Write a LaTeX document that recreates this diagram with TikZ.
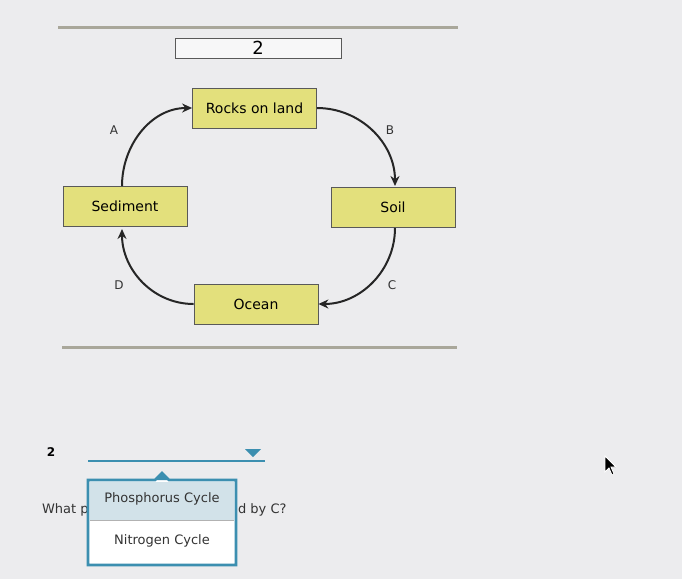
\documentclass[tikz,border=0pt]{standalone}
\usepackage{fontspec}
\setmainfont{DejaVu Sans}
\usetikzlibrary{arrows.meta}
\definecolor{bg}{HTML}{ECECEE}
\definecolor{boxy}{HTML}{E3E07C}
\definecolor{rule}{HTML}{A9A79A}
\definecolor{dd}{HTML}{3C8FB0}
\begin{document}
\begin{tikzpicture}[x=0.5pt,y=-0.5pt,
  cbox/.style={draw=gray!70!black,fill=boxy,minimum width=62pt,minimum height=20pt,inner sep=0pt,font=\fontsize{7}{8}\selectfont},
  lab/.style={font=\fontsize{6}{7}\selectfont,text=black!80},
  cyc/.style={-{Stealth[length=5pt,width=4.5pt]},line width=1pt,black!85}]
\useasboundingbox[fill=bg] (0,0) rectangle (682,579);
\draw[rule,line width=1.5pt] (58,27) -- (458,27);
\node[draw=gray!70!black,fill=white!60!bg,minimum width=83pt,minimum height=10pt,inner sep=0pt,font=\fontsize{9}{10}\selectfont] (num) at (258,48) {2};
\node[cbox] (rocks) at (254.5,108) {Rocks on land};
\node[cbox] (sed) at (125,206) {Sediment};
\node[cbox] (soil) at (393,207.5) {Soil};
\node[cbox] (ocean) at (256,304) {Ocean};
\draw[cyc] (122,186) to[out=90,in=180] (rocks.west);
\draw[cyc] (rocks.east) to[out=0,in=90] (395,186);
\draw[cyc] (395,228) to[out=-90,in=0] (ocean.east);
\draw[cyc] (ocean.west) to[out=180,in=-90] (122,229);
\node[lab] (la) at (114,130) {A};
\node[lab] (lb) at (390,130) {B};
\node[lab] (lc) at (392,285) {C};
\node[lab] (ld) at (119,285) {D};
\draw[rule,line width=1.5pt] (62,347) -- (457,347);
\node[font=\bfseries\fontsize{6}{7}\selectfont] (q) at (51,452) {2};
\coordinate (l1) at (88,461); \coordinate (l2) at (265,461);
\draw[dd,line width=0.8pt] (l1) -- (l2);
\fill[dd] (245,449) -- (261,449) -- (253,457) -- cycle;
\node[font=\fontsize{6.5}{8}\selectfont,anchor=west,text=black!80] (w1) at (35,510) {What p};
\node[font=\fontsize{6.5}{8}\selectfont,anchor=west,text=black!80] (w2) at (231,510) {d by C?};
\fill[white] (88,480) rectangle (236,565);
\fill[gray!20!dd!25] (90,482) rectangle (234,520);
\draw[dd,line width=1.3pt] (88,480) -- (155,480) -- (162,473) -- (169,480) -- (236,480) -- (236,565) -- (88,565) -- cycle;
\fill[dd] (156,480) -- (162,474) -- (168,480) -- cycle;
\draw[gray!60] (90,520) -- (234,520);
\node[font=\fontsize{6.5}{8}\selectfont,text=black!80] (p) at (162,499) {Phosphorus Cycle};
\node[font=\fontsize{6.5}{8}\selectfont,text=black!80] (n) at (162,541) {Nitrogen Cycle};
\draw[fill=black,draw=white,line width=0.4pt] (605,456) -- (605,472) -- (609,468) -- (612,475) -- (614,474) -- (611,467) -- (616,467) -- cycle;
\end{tikzpicture}
\end{document}
